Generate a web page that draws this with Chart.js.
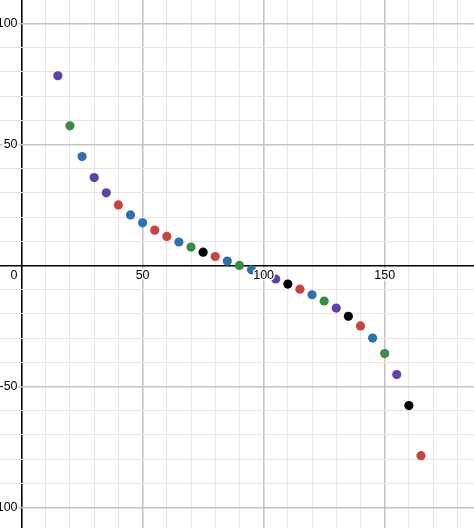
<!DOCTYPE html>
<html>
<head>
<meta charset="utf-8">
<script src="https://cdn.jsdelivr.net/npm/chart.js@4/dist/chart.umd.min.js"></script>
<style>
  html, body { margin: 0; padding: 0; background: #fff; overflow: hidden; }
  #grafica { display: block; }
</style>
</head>
<body>
<canvas id="grafica" width="474" height="528"></canvas>
<script>
// datos
const valoresX = [15, 20, 25, 30, 35, 40, 45, 50, 55, 60, 65, 70, 75, 80, 85, 90,
  95, 100, 105, 110, 115, 120, 125, 130, 135, 140, 145, 150, 155, 160, 165];
const valoresY = [78.4, 57.7, 45.0, 36.3, 30.0, 25.0, 20.9, 17.6, 14.6, 12.0, 9.7, 7.6, 5.5, 3.7, 1.8, 0,
  -1.8, -3.7, -5.6, -7.7, -9.8, -12.1, -14.7, -17.6, -21.0, -25.0, -30.0, -36.4, -45.1, -57.9, -78.6];
const gruposColor = ["morado", "verde", "azul", "morado", "morado", "rojo", "azul", "azul", "rojo", "rojo",
  "azul", "verde", "negro", "rojo", "azul", "verde", "azul", "verde", "morado", "negro", "rojo", "azul",
  "verde", "morado", "negro", "rojo", "azul", "verde", "morado", "negro", "rojo"];
const etiquetasX = [0, 50, 100, 150];
const etiquetasY = [100, 50, -50, -100];

const paleta = {
  rojo: "#c74440",
  azul: "#2d70b3",
  verde: "#388c46",
  morado: "#6042a6",
  negro: "#000000"
};

const puntos = valoresX.map((x, i) => ({ x: x, y: valoresY[i] }));

function valorTick(ctx) {
  return Math.round(ctx.tick.value * 1000) / 1000;
}
function colorRejilla(ctx) {
  const v = valorTick(ctx);
  if (v % 10 !== 0) return "rgba(0,0,0,0)";
  if (v === 0) return "#000";
  if (v % 50 === 0) return "#c4c4c4";
  return "#e6e6e6";
}
function anchoRejilla(ctx) {
  const v = valorTick(ctx);
  if (v === 0) return 1.6;
  if (v % 50 === 0) return 1.6;
  return 1;
}

// etiquetas dentro del area, estilo calculadora grafica
const etiquetasEjes = {
  id: "etiquetasEjes",
  afterDraw(chart) {
    const c = chart.ctx;
    const ex = chart.scales.x;
    const ey = chart.scales.y;
    const x0 = ex.getPixelForValue(0);
    const y0 = ey.getPixelForValue(0);
    c.save();
    c.font = "12.5px 'Liberation Sans', Arial, sans-serif";
    c.lineWidth = 3;
    c.strokeStyle = "#fff";
    c.fillStyle = "#000";
    c.textBaseline = "middle";
    etiquetasX.forEach(v => {
      const px = ex.getPixelForValue(v);
      if (v === 0) {
        c.textAlign = "right";
        c.strokeText("0", x0 - 4, y0 + 10);
        c.fillText("0", x0 - 4, y0 + 10);
      } else {
        c.textAlign = "center";
        c.strokeText(String(v), px, y0 + 10);
        c.fillText(String(v), px, y0 + 10);
      }
    });
    etiquetasY.forEach(v => {
      const py = ey.getPixelForValue(v);
      const txt = String(v);
      c.textAlign = "right";
      c.strokeText(txt, x0 - 4, py);
      c.fillText(txt, x0 - 4, py);
    });
    c.restore();
  }
};

const ctx = document.getElementById("grafica").getContext("2d");
new Chart(ctx, {
  type: "scatter",
  data: {
    datasets: [{
      data: puntos,
      pointRadius: 4.6,
      pointHoverRadius: 4.6,
      pointBorderWidth: 0,
      pointBackgroundColor: gruposColor.map(g => paleta[g]),
      pointBorderColor: gruposColor.map(g => paleta[g])
    }]
  },
  options: {
    responsive: false,
    animation: false,
    layout: { padding: 0, autoPadding: false },
    plugins: {
      legend: { display: false },
      tooltip: { enabled: false }
    },
    scales: {
      x: {
        type: "linear",
        min: -8.9,
        max: 186.9,
        ticks: { display: false, stepSize: 10, includeBounds: false },
        border: { display: false },
        grid: { drawTicks: false, color: colorRejilla, lineWidth: anchoRejilla },
        afterFit: s => { s.height = 0; }
      },
      y: {
        type: "linear",
        min: -108.5,
        max: 109.7,
        ticks: { display: false, stepSize: 10, includeBounds: false },
        border: { display: false },
        grid: { drawTicks: false, color: colorRejilla, lineWidth: anchoRejilla },
        afterFit: s => { s.width = 0; }
      }
    }
  },
  plugins: [etiquetasEjes]
});
</script>
</body>
</html>
